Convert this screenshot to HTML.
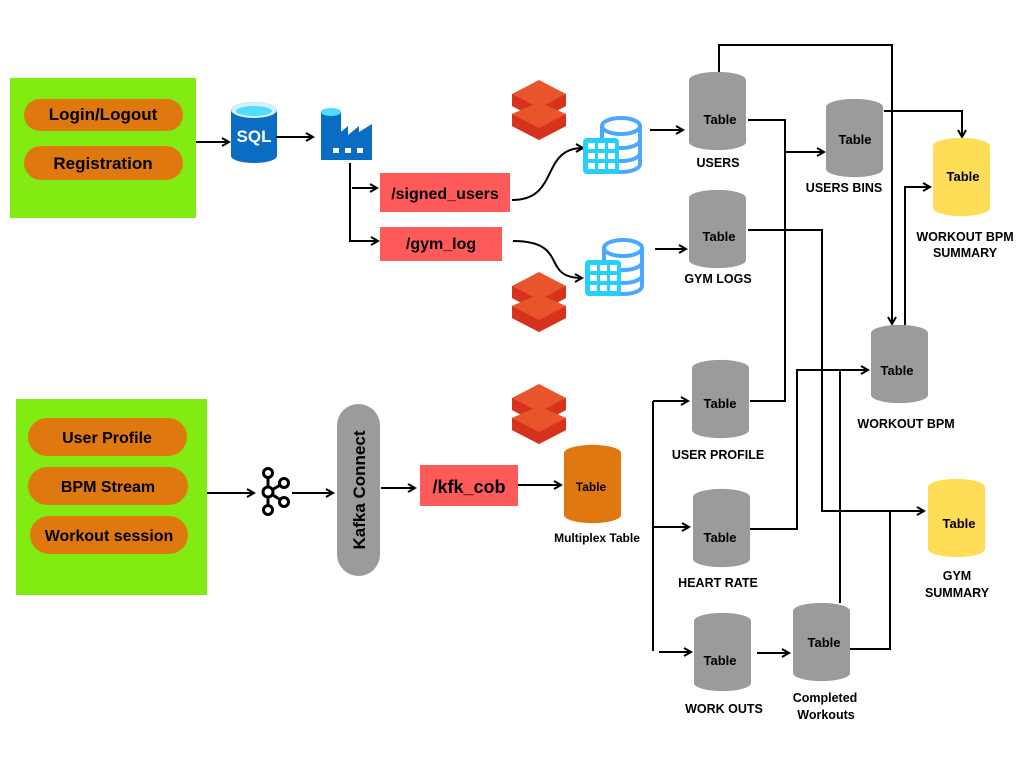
<!DOCTYPE html>
<html><head><meta charset="utf-8"><style>
html,body{margin:0;padding:0;background:#fff}
svg{display:block}
text{font-family:"Liberation Sans",sans-serif;font-weight:bold}
</style></head><body>
<svg width="1024" height="768" viewBox="0 0 1024 768" xmlns="http://www.w3.org/2000/svg">
<defs>
<marker id="a" markerWidth="10" markerHeight="10" refX="8" refY="5" orient="auto" markerUnits="userSpaceOnUse">
<path d="M1,1 L8,5 L1,9" fill="none" stroke="#000" stroke-width="2"/></marker>
<g id="cyl">
<path d="M0,8 A28,8 0 0 1 57,8 L57,70 A28,8 0 0 1 0,70 Z"/>
</g>
<g id="dbx">
<path d="M27,0 L54,14 L54,26 L27,40 L0,26 L0,14 Z" fill="#e8552d"/>
<path d="M0,14 L27,28 L54,14 L54,26 L27,40 L0,26 Z" fill="#d8321f"/>
<path d="M27,22 L54,34 L54,46 L27,60 L0,46 L0,34 Z" fill="#e8552d"/>
<path d="M0,34 L27,48 L54,34 L54,46 L27,60 L0,46 Z" fill="#d8321f"/>
</g>
<g id="db">
<ellipse cx="38" cy="10" rx="19" ry="8" fill="none" stroke="#4aa8ff" stroke-width="4"/>
<path d="M19,10 V48 A19,8 0 0 0 57,48 V10 M19,24 A19,8 0 0 0 57,24 M19,37 A19,8 0 0 0 57,37" fill="none" stroke="#4aa8ff" stroke-width="4"/>
<rect x="0" y="22" width="36" height="36" rx="4" fill="#25d0ff"/>
<g fill="#fff"><rect x="5" y="27" width="7" height="6"/><rect x="15" y="27" width="7" height="6"/><rect x="25" y="27" width="7" height="6"/>
<rect x="5" y="37" width="7" height="6"/><rect x="15" y="37" width="7" height="6"/><rect x="25" y="37" width="7" height="6"/>
<rect x="5" y="47" width="7" height="6"/><rect x="15" y="47" width="7" height="6"/><rect x="25" y="47" width="7" height="6"/></g>
</g>
</defs>

<!-- green boxes -->
<rect x="10" y="78" width="186" height="140" fill="#82eb12"/>
<rect x="24" y="99" width="159" height="32" rx="16" fill="#e07810"/>
<rect x="24" y="146" width="159" height="34" rx="17" fill="#e07810"/>
<text x="103" y="120" font-size="17" text-anchor="middle">Login/Logout</text>
<text x="103" y="169" font-size="17" text-anchor="middle">Registration</text>

<rect x="16" y="399" width="191" height="196" fill="#82eb12"/>
<rect x="28" y="418" width="159" height="38" rx="19" fill="#e07810"/>
<rect x="28" y="467" width="160" height="38" rx="19" fill="#e07810"/>
<rect x="30" y="516" width="158" height="38" rx="19" fill="#e07810"/>
<text x="107" y="443" font-size="16" text-anchor="middle">User Profile</text>
<text x="108" y="492" font-size="16" text-anchor="middle">BPM Stream</text>
<text x="109" y="541" font-size="16" text-anchor="middle">Workout session</text>

<!-- SQL icon -->
<path d="M231,110 A23,8 0 0 1 277,110 L277,156 A23,7 0 0 1 231,156 Z" fill="#0a6dc4"/>
<ellipse cx="254" cy="110" rx="23" ry="8" fill="#d8eef8"/>
<ellipse cx="254" cy="111" rx="18" ry="5" fill="#4fdcff"/>
<text x="254" y="142" font-size="17" fill="#fff" text-anchor="middle">SQL</text>
<!-- factory -->
<rect x="321" y="112" width="20" height="48" fill="#0a6dc4"/>
<ellipse cx="331" cy="112" rx="10" ry="4" fill="#4fdcff"/>
<path d="M321,160 V135 L337,135 L348,126 L348,135 L359,126 L359,132 L372,124 L372,160 Z" fill="#0a6dc4"/>
<g fill="#fff"><rect x="333" y="148" width="6" height="5"/><rect x="345" y="148" width="6" height="5"/><rect x="357" y="148" width="6" height="5"/></g>

<g stroke="#000" stroke-width="2" fill="none">
<line x1="196" y1="142" x2="229" y2="142" marker-end="url(#a)"/>
<line x1="276" y1="137" x2="313" y2="137" marker-end="url(#a)"/>
<path d="M350,163 V241 H378" marker-end="url(#a)"/>
<line x1="352" y1="188" x2="377" y2="188" marker-end="url(#a)"/>
<path d="M512,200 C560,200 540,148 583,148" marker-end="url(#a)"/>
<path d="M513,241 C570,241 540,278 582,278" marker-end="url(#a)"/>
<line x1="650" y1="130" x2="683" y2="130" marker-end="url(#a)"/>
<line x1="655" y1="249" x2="686" y2="249" marker-end="url(#a)"/>

<path d="M719,72 V45 H892 V324" marker-end="url(#a)"/>
<path d="M748,120 H785 V401 H750"/>
<line x1="785" y1="152" x2="824" y2="152" marker-end="url(#a)"/>
<path d="M884,111 H962 V137" marker-end="url(#a)"/>
<path d="M905,325 V187 H930" marker-end="url(#a)"/>
<path d="M748,230 H822 V511 H924" marker-end="url(#a)"/>
<path d="M749,529 H797 V370 H868" marker-end="url(#a)"/>
<line x1="840" y1="603" x2="840" y2="370"/>
<path d="M850,649 H890 V511"/>
<path d="M653,401 V651"/>
<line x1="653" y1="401" x2="688" y2="401" marker-end="url(#a)"/>
<line x1="653" y1="527" x2="689" y2="527" marker-end="url(#a)"/>
<line x1="659" y1="652" x2="691" y2="652" marker-end="url(#a)"/>
<line x1="757" y1="653" x2="789" y2="653" marker-end="url(#a)"/>

<line x1="207" y1="493" x2="254" y2="493" marker-end="url(#a)"/>
<line x1="292" y1="493" x2="333" y2="493" marker-end="url(#a)"/>
<line x1="381" y1="488" x2="415" y2="488" marker-end="url(#a)"/>
<line x1="518" y1="485" x2="561" y2="485" marker-end="url(#a)"/>
</g>

<!-- topic boxes -->
<rect x="380" y="173" width="130" height="39" fill="#ff5a5a"/>
<text x="445" y="199" font-size="16" text-anchor="middle">/signed_users</text>
<rect x="380" y="227" width="122" height="34" fill="#ff5a5a"/>
<text x="441" y="249" font-size="16" text-anchor="middle">/gym_log</text>
<rect x="420" y="465" width="98" height="41" fill="#ff5a5a"/>
<text x="469" y="493" font-size="18" text-anchor="middle">/kfk_cob</text>

<use href="#dbx" x="512" y="80"/>
<use href="#dbx" x="512" y="272"/>
<use href="#dbx" x="512" y="384"/>
<use href="#db" x="583" y="116"/>
<use href="#db" x="585" y="238"/>

<!-- kafka icon -->
<g stroke="#000" stroke-width="3" fill="#fff">
<line x1="268" y1="473" x2="268" y2="510"/><line x1="268" y1="492" x2="284" y2="483"/><line x1="268" y1="492" x2="284" y2="502"/>
<circle cx="268" cy="473" r="4.5"/><circle cx="268" cy="510" r="4.5"/><circle cx="268" cy="492" r="5"/>
<circle cx="284" cy="483" r="4.5"/><circle cx="284" cy="502" r="4.5"/>
</g>
<rect x="337" y="404" width="43" height="172" rx="21.5" fill="#9b9b9b"/>
<text transform="translate(365,490) rotate(-90)" font-size="17" text-anchor="middle">Kafka Connect</text>

<!-- cylinders -->
<g fill="#9b9b9b">
<use href="#cyl" x="689" y="72"/><use href="#cyl" x="689" y="190"/>
<use href="#cyl" x="826" y="99"/><use href="#cyl" x="871" y="325"/>
<use href="#cyl" x="692" y="360"/><use href="#cyl" x="693" y="489"/>
<use href="#cyl" x="694" y="613"/><use href="#cyl" x="793" y="603"/>
</g>
<g fill="#ffdd57"><use href="#cyl" x="933" y="138"/><use href="#cyl" x="928" y="479"/></g>
<g fill="#e07810"><use href="#cyl" x="564" y="445"/></g>

<g font-size="13" text-anchor="middle">
<text x="720" y="124">Table</text><text x="719" y="241">Table</text>
<text x="855" y="144">Table</text><text x="897" y="375">Table</text>
<text x="720" y="408">Table</text><text x="720" y="542">Table</text>
<text x="720" y="665">Table</text><text x="824" y="647">Table</text>
<text x="963" y="181">Table</text><text x="959" y="528">Table</text>
<text x="591" y="491" font-size="12">Table</text>
</g>
<g font-size="12.5" text-anchor="middle">
<text x="718" y="167">USERS</text>
<text x="718" y="283">GYM LOGS</text>
<text x="844" y="192">USERS BINS</text>
<text x="965" y="241">WORKOUT BPM</text>
<text x="965" y="257">SUMMARY</text>
<text x="906" y="428">WORKOUT BPM</text>
<text x="718" y="459">USER PROFILE</text>
<text x="718" y="587">HEART RATE</text>
<text x="724" y="713">WORK OUTS</text>
<text x="825" y="702">Completed</text>
<text x="826" y="719">Workouts</text>
<text x="957" y="580">GYM</text>
<text x="957" y="597">SUMMARY</text>
<text x="597" y="542" font-size="12">Multiplex Table</text>
</g>
</svg>
</body></html>
